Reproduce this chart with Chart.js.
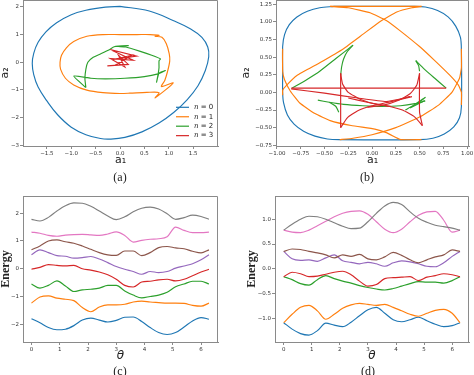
<!DOCTYPE html>
<html>
<head>
<meta charset="utf-8">
<script src="https://cdn.jsdelivr.net/npm/chart.js@4"></script>
<style>
  body { margin: 0; background: #fff; width: 474px; height: 375px; position: relative; overflow: hidden; }
  .panel { position: absolute; }
  .cap { position: absolute; font: 12px 'Liberation Serif', serif; color: #222; transform: translateX(-50%); }
</style>
</head>
<body>
<div class="panel" style="left:0;top:0;width:237px;height:171px"><canvas id="chartA"></canvas></div>
<div class="panel" style="left:237px;top:0;width:237px;height:171px"><canvas id="chartB"></canvas></div>
<div class="panel" style="left:0;top:188px;width:237px;height:179px"><canvas id="chartC"></canvas></div>
<div class="panel" style="left:237px;top:188px;width:237px;height:179px"><canvas id="chartD"></canvas></div>
<div class="cap" style="left:120px;top:170px">(a)</div>
<div class="cap" style="left:367px;top:170px">(b)</div>
<div class="cap" style="left:120px;top:364px">(c)</div>
<div class="cap" style="left:368px;top:364px">(d)</div>
<script>
// ---- (a) trajectories, n = 0..3, points [a1, a2]
const legendLabels = ['n = 0', 'n = 1', 'n = 2', 'n = 3'];
const aN0 = [[0.0,2.02],[-0.3,1.99],[-0.7,1.88],[-1.0,1.72],[-1.3,1.43],[-1.52,1.1],[-1.68,0.72],[-1.77,0.32],[-1.8,-0.05],
  [-1.77,-0.45],[-1.68,-0.9],[-1.5,-1.4],[-1.28,-1.9],[-1.0,-2.35],[-0.7,-2.62],[-0.4,-2.76],[-0.2,-2.78],[0.1,-2.72],
  [0.45,-2.52],[0.8,-2.2],[1.1,-1.82],[1.38,-1.35],[1.6,-0.85],[1.75,-0.3],[1.82,0.2],[1.8,0.55],[1.68,0.9],[1.45,1.2],
  [1.1,1.5],[0.6,1.85],[0.0,2.02]];
const aN1 = [[0.0,1.0],[0.35,1.0],[0.62,1.0],[0.80,0.97],[0.72,0.94],[0.86,0.9],[0.95,0.67],[1.01,0.3],[1.02,0.05],
  [0.98,-0.3],[0.92,-0.65],[0.85,-0.88],[1.09,-0.75],[0.72,-1.29],[0.80,-1.1],[0.55,-1.09],[0.2,-1.12],[0.0,-1.13],
  [-0.35,-1.1],[-0.68,-1.01],[-0.95,-0.82],[-1.12,-0.58],[-1.22,-0.25],[-1.23,0.0],[-1.2,0.25],[-1.1,0.52],[-0.95,0.75],
  [-0.68,0.94],[-0.35,1.0],[0.0,1.0]];
const aN2 = [[-0.70,-0.92],[-0.72,-0.6],[-0.70,-0.25],[-0.66,0.0],[-0.55,0.18],[-0.40,0.3],[-0.22,0.45],[-0.12,0.56],
  [0.17,0.6],[-0.05,0.57],[0.12,0.55],[0.40,0.4],[0.65,0.25],[0.83,0.12],[0.80,0.05],[0.80,-0.2],[0.78,-0.45],[0.75,-0.72],
  [0.80,-0.4],[0.93,-0.3],[0.78,-0.42],[0.50,-0.52],[0.10,-0.58],[-0.30,-0.6],[-0.60,-0.58],[-0.95,-0.5],[-0.70,-0.92]];
const aN3 = [[-0.2,0.46],[0.34,0.22],[-0.14,0.1],[0.24,0.25],[-0.1,-0.11],[-0.26,-0.13],[0.17,-0.08],[-0.03,0.25],
  [0.1,-0.17],[-0.2,0.13],[0.27,0.07],[-0.17,0.43]];

// ---- (b) trajectories, each an array of pieces
const bN0 = [[[-0.40,1.22],[-0.55,1.2],[-0.68,1.15],[-0.79,1.07],[-0.87,0.96],[-0.92,0.82],[-0.94,0.65],[-0.94,0.3],
  [-0.94,0.0],[-0.93,-0.15],[-0.89,-0.32],[-0.82,-0.45],[-0.72,-0.55],[-0.6,-0.62],[-0.47,-0.66],[-0.35,-0.67],[0.5,-0.67],
  [0.64,-0.65],[0.76,-0.59],[0.86,-0.49],[0.92,-0.36],[0.94,-0.2],[0.94,0.6],[0.93,0.78],[0.88,0.94],[0.8,1.07],
  [0.69,1.16],[0.56,1.21],[0.45,1.22],[-0.40,1.22]]];
const bN1 = [
  [[-0.94,0.62],[-0.94,0.3],[-0.92,0.18],[-0.86,0.02],[-0.76,-0.15],[-0.6,-0.3],[-0.44,-0.4],[-0.22,-0.47],[0.03,-0.52],
   [0.15,-0.57],[0.25,-0.64],[0.3,-0.67],[0.52,-0.67]],
  [[-0.34,-0.67],[-0.2,-0.65],[0.0,-0.6],[0.25,-0.5],[0.5,-0.35],[0.7,-0.18],[0.84,0.0],[0.92,0.2],[0.94,0.35],[0.94,0.62]],
  [[-0.94,-0.04],[-0.94,0.03],[-0.9,0.1],[-0.79,0.24],[-0.55,0.42],[-0.3,0.62],[-0.09,0.83],[0.09,1.01],[0.26,1.14],
   [0.42,1.2],[0.52,1.22]],
  [[-0.44,1.22],[0.52,1.22]],
  [[-0.44,1.22],[-0.25,1.2],[-0.02,1.13],[0.15,1.02],[0.29,0.88],[0.5,0.65],[0.66,0.45],[0.82,0.24],[0.91,0.1],
   [0.94,0.0],[0.94,-0.18]]];
const bN2 = [
  [[-0.84,0.06],[-0.7,0.17],[-0.55,0.3],[-0.38,0.48],[-0.2,0.67]],
  [[-0.2,0.67],[-0.26,0.58],[-0.3,0.47],[-0.32,0.36],[-0.33,0.24]],
  [[-0.57,-0.11],[-0.45,-0.14],[-0.3,-0.17],[-0.1,-0.19],[0.1,-0.2],[0.3,-0.19],[0.45,-0.16],[0.56,-0.12]],
  [[-0.45,-0.14],[-0.38,-0.2],[-0.35,-0.28]],
  [[0.46,0.45],[0.55,0.33],[0.66,0.2],[0.78,0.06]],
  [[0.46,0.45],[0.49,0.38],[0.5,0.3]],
  [[0.35,-0.25],[0.45,-0.17],[0.56,-0.07],[0.47,-0.17],[0.55,-0.12],[0.4,-0.22]]];
const bN3 = [
  [[-0.85,0.06],[0.78,0.06]],
  [[-0.85,0.05],[-0.5,-0.01],[-0.15,-0.08],[0.15,-0.13],[0.4,-0.06]],
  [[-0.33,0.27],[-0.31,0.12],[-0.25,0.0],[-0.12,-0.1],[0.05,-0.17],[0.2,-0.2]],
  [[-0.33,0.27],[-0.33,-0.5]],
  [[-0.33,-0.5],[-0.26,-0.36],[-0.15,-0.26],[0.0,-0.19],[0.2,-0.13],[0.42,-0.06]],
  [[0.5,0.27],[0.47,0.1],[0.4,-0.02],[0.28,-0.11],[0.12,-0.18],[-0.05,-0.21]],
  [[0.5,0.27],[0.5,-0.28],[0.53,-0.47]],
  [[0.53,-0.47],[0.45,-0.35],[0.32,-0.25],[0.15,-0.19],[-0.05,-0.14],[-0.25,-0.08]]];

// ---- (c), (d) energy bands vs theta
const theta = [0,0.3,0.6,0.9,1.2,1.5,1.8,2.1,2.4,2.7,3.0,3.3,3.6,3.9,4.2,4.5,4.8,5.1,5.4,5.7,6.0,6.28];
const cBand0 = [-1.80,-1.95,-2.12,-2.20,-2.18,-2.05,-1.85,-1.78,-1.85,-1.92,-1.86,-1.75,-1.74,-1.90,-2.12,-2.30,-2.37,-2.30,-2.10,-1.88,-1.76,-1.82];
const cBand1 = [-1.24,-1.02,-0.98,-1.06,-1.10,-1.15,-1.40,-1.55,-1.38,-1.30,-1.30,-1.28,-1.20,-1.17,-1.20,-1.22,-1.24,-1.24,-1.25,-1.32,-1.35,-1.24];
const cBand2 = [-0.55,-0.70,-0.60,-0.44,-0.62,-0.82,-0.76,-0.74,-0.70,-0.60,-0.60,-0.80,-0.95,-1.05,-1.00,-0.95,-0.85,-0.65,-0.55,-0.45,-0.45,-0.55];
const cBand3 = [-0.02,0.05,0.15,0.12,0.10,0.12,0.00,-0.05,-0.12,-0.22,-0.38,-0.60,-0.66,-0.48,-0.45,-0.40,-0.38,-0.44,-0.38,-0.25,-0.12,-0.02];
const cBand4 = [0.50,0.68,0.58,0.47,0.45,0.38,0.40,0.44,0.35,0.22,0.08,-0.02,-0.10,-0.20,-0.10,-0.14,-0.10,0.02,0.10,0.18,0.32,0.50];
const cBand5 = [0.68,0.82,1.00,1.04,0.97,0.92,0.82,0.70,0.58,0.50,0.48,0.64,0.64,0.47,0.58,0.76,0.80,0.75,0.72,0.63,0.57,0.68];
const cBand6 = [1.32,1.28,1.20,1.17,1.21,1.23,1.24,1.22,1.20,1.25,1.33,1.20,0.96,1.02,1.06,1.08,1.15,1.50,1.38,1.30,1.30,1.32];
const cBand7 = [1.78,1.72,1.85,2.08,2.27,2.37,2.36,2.25,2.08,1.90,1.77,1.87,2.05,2.18,2.22,2.15,1.98,1.78,1.84,1.93,1.88,1.78];
const dBand0 = [-1.09,-1.22,-1.31,-1.34,-1.25,-1.10,-1.14,-1.17,-1.08,-0.95,-0.83,-0.78,-0.90,-1.03,-1.07,-1.03,-0.98,-1.05,-1.12,-1.17,-1.15,-1.09];
const dBand1 = [-1.09,-0.92,-0.78,-0.74,-0.85,-1.02,-0.92,-0.80,-0.73,-0.70,-0.72,-0.74,-0.72,-0.78,-0.85,-0.92,-0.96,-0.90,-0.84,-0.82,-0.90,-1.09];
const dBand2 = [-0.16,-0.22,-0.30,-0.33,-0.22,-0.14,-0.20,-0.25,-0.29,-0.34,-0.38,-0.41,-0.43,-0.40,-0.35,-0.30,-0.26,-0.27,-0.27,-0.29,-0.24,-0.16];
const dBand3 = [-0.16,-0.07,-0.10,-0.16,-0.15,-0.11,-0.07,-0.05,-0.12,-0.25,-0.35,-0.32,-0.20,-0.18,-0.17,-0.16,-0.24,-0.17,-0.14,-0.10,-0.12,-0.16];
const dBand4 = [0.35,0.20,0.17,0.18,0.15,0.22,0.28,0.16,0.13,0.10,0.13,0.10,0.05,0.12,0.16,0.14,0.10,0.05,0.04,0.12,0.25,0.35];
const dBand5 = [0.35,0.40,0.39,0.35,0.32,0.28,0.22,0.28,0.25,0.29,0.20,0.18,0.24,0.33,0.27,0.18,0.12,0.18,0.24,0.28,0.38,0.35];
const dBand6 = [0.78,0.74,0.73,0.78,0.87,0.96,1.05,1.12,1.16,1.17,1.10,0.95,0.80,0.73,0.80,0.95,1.08,1.15,1.16,0.98,0.74,0.78];
const dBand7 = [0.78,0.90,1.00,1.06,1.05,1.00,0.93,0.86,0.81,0.82,0.95,1.12,1.27,1.34,1.30,1.15,1.02,0.94,0.88,0.85,0.82,0.78];

// tick values
const aTicksX = [-1.5,-1,-0.5,0,0.5,1,1.5];
const aTicksY = [-3,-2,-1,0,1,2];
const bTicksX = [-1,-0.75,-0.5,-0.25,0,0.25,0.5,0.75,1];
const bTicksY = [-0.75,-0.5,-0.25,0,0.25,0.5,0.75,1,1.25];
const cTicksX = [0,1,2,3,4,5,6];
const cTicksY = [-2,-1,0,1,2];
const dTicksY = [-1,-0.5,0,0.5,1];

const colors = ['#1f77b4','#ff7f0e','#2ca02c','#d62728','#9467bd','#8c564b','#e377c2','#7f7f7f'];
const FRAME = '#8a8a8a';
const TICKFONT = { family: 'DejaVu Sans', size: 5.5 };
const LW = 1.15;

const fmt = d => v => (v < 0 ? '\u2212' : '') + Math.abs(v).toFixed(d);

function axis(min, max, ticks, format, size, title) {
  return {
    type: 'linear', min, max,
    afterBuildTicks: s => { s.ticks = ticks.map(v => ({ value: v })); },
    afterFit: s => {
      if (s.isHorizontal()) s.height = size; else s.width = size;
      s.paddingLeft = s.paddingRight = s.paddingTop = s.paddingBottom = 0;
    },
    grid: { display: true, drawOnChartArea: false, drawTicks: true, tickLength: 3, color: FRAME },
    border: { display: true, color: FRAME, width: 1 },
    ticks: { font: TICKFONT, color: '#333', padding: 1, maxRotation: 0, autoSkip: false,
             callback: v => format(v) },
    title: Object.assign({ display: true, color: '#222' }, title)
  };
}

const framePlugin = {
  id: 'frame',
  afterDraw(chart) {
    const { ctx, chartArea: a } = chart;
    ctx.save();
    ctx.strokeStyle = FRAME;
    ctx.lineWidth = 1;
    ctx.beginPath();
    ctx.moveTo(Math.round(a.left), Math.round(a.top) + 0.5);
    ctx.lineTo(Math.round(a.right) - 0.5, Math.round(a.top) + 0.5);
    ctx.lineTo(Math.round(a.right) - 0.5, Math.round(a.bottom));
    ctx.stroke();
    ctx.restore();
  }
};

// legend inside panel (a), lower right
const legendPlugin = {
  id: 'legendA',
  afterDraw(chart) {
    const { ctx, chartArea: a } = chart;
    ctx.save();
    legendLabels.forEach((lab, i) => {
      const y = a.bottom - 38.7 + i * 9.45;
      ctx.strokeStyle = colors[i];
      ctx.lineWidth = 1.2;
      ctx.beginPath();
      ctx.moveTo(a.right - 42, y);
      ctx.lineTo(a.right - 29, y);
      ctx.stroke();
      ctx.fillStyle = '#222';
      ctx.textBaseline = 'middle';
      ctx.font = 'italic 7px "DejaVu Serif"';
      const x0 = a.right - 24;
      ctx.fillText(lab.charAt(0), x0, y);
      const w = ctx.measureText(lab.charAt(0)).width;
      ctx.font = '7px "DejaVu Sans"';
      ctx.fillText(lab.slice(1), x0 + w, y);
    });
    ctx.restore();
  }
};

function path(pts, color, order, tension) {
  return { data: pts.map(p => ({ x: p[0], y: p[1] })), borderColor: color, borderWidth: LW,
           showLine: true, pointRadius: 0, tension: tension, fill: false, order: order };
}
function band(vals, color, order) {
  return { data: theta.map((t, i) => ({ x: t, y: vals[i] })), borderColor: color, borderWidth: LW,
           showLine: true, pointRadius: 0, cubicInterpolationMode: 'monotone', fill: false, order: order };
}

function makeChart(id, datasets, scales, padding, extra) {
  return new Chart(document.getElementById(id), {
    type: 'scatter',
    data: { datasets },
    options: {
      responsive: true, maintainAspectRatio: false, animation: false, devicePixelRatio: 1, events: [],
      layout: { padding },
      plugins: { legend: { display: false }, tooltip: { enabled: false } },
      scales
    },
    plugins: [framePlugin].concat(extra || [])
  });
}

const aTitleFont = { family: 'DejaVu Sans', size: 11, lineHeight: 1 };
const eTitleFont = { family: 'Liberation Serif', size: 12, weight: 'bold', lineHeight: 1 };
const thFont = { family: 'DejaVu Sans', size: 12, style: 'italic', lineHeight: 1 };

// (a)
makeChart('chartA',
  [path(aN0, colors[0], 0, 0.4), path(aN1, colors[1], -1, 0.3), path(aN2, colors[2], -2, 0.15), path(aN3, colors[3], -3, 0)],
  {
    x: axis(-1.99, 2.01, aTicksX, fmt(1), 25, { text: 'a\u2081', font: aTitleFont, padding: { top: 0, bottom: 5 } }),
    y: axis(-3.03, 2.25, aTicksY, v => (v < 0 ? '\u2212' : '') + Math.abs(v), 23, { text: 'a\u2082', font: aTitleFont, padding: { top: 0, bottom: 0 } })
  },
  { left: 0, top: 0, right: 19, bottom: 0 }, [legendPlugin]);

// (b)
const bSets = [];
bN0.forEach(s => bSets.push(path(s, colors[0], 0, 0.3)));
bN1.forEach(s => bSets.push(path(s, colors[1], -1, 0.12)));
bN2.forEach(s => bSets.push(path(s, colors[2], -2, 0.15)));
bN3.forEach(s => bSets.push(path(s, colors[3], -3, 0.15)));
makeChart('chartB', bSets,
  {
    x: axis(-1.01, 1.02, bTicksX, fmt(2), 25, { text: 'a\u2081', font: aTitleFont, padding: { top: 0, bottom: 5 } }),
    y: axis(-0.76, 1.31, bTicksY, fmt(2), 39, { text: 'a\u2082', font: aTitleFont, padding: { top: 4, bottom: 0 } })
  },
  { left: 0, top: 0, right: 5, bottom: 0 });

// (c)
const cBands = [cBand0, cBand1, cBand2, cBand3, cBand4, cBand5, cBand6, cBand7];
makeChart('chartC', cBands.map((b, i) => band(b, colors[i], -i)),
  {
    x: axis(-0.3, 6.6, cTicksX, fmt(0), 25, { text: '\u03b8', font: thFont, padding: { top: 0, bottom: 5 } }),
    y: axis(-2.64, 2.62, cTicksY, fmt(0), 23, { text: 'Energy', font: eTitleFont, padding: { top: 0, bottom: 0 } })
  },
  { left: 0, top: 8, right: 19, bottom: 0 });

// (d)
const dBands = [dBand0, dBand1, dBand2, dBand3, dBand4, dBand5, dBand6, dBand7];
makeChart('chartD', dBands.map((b, i) => band(b, colors[i], -i)),
  {
    x: axis(-0.31, 6.6, cTicksX, fmt(0), 25, { text: '\u03b8', font: thFont, padding: { top: 0, bottom: 5 } }),
    y: axis(-1.48, 1.47, dTicksY, fmt(1), 38, { text: 'Energy', font: eTitleFont, padding: { top: 9, bottom: 0 } })
  },
  { left: 0, top: 8, right: 5, bottom: 0 });
</script>
</body>
</html>
